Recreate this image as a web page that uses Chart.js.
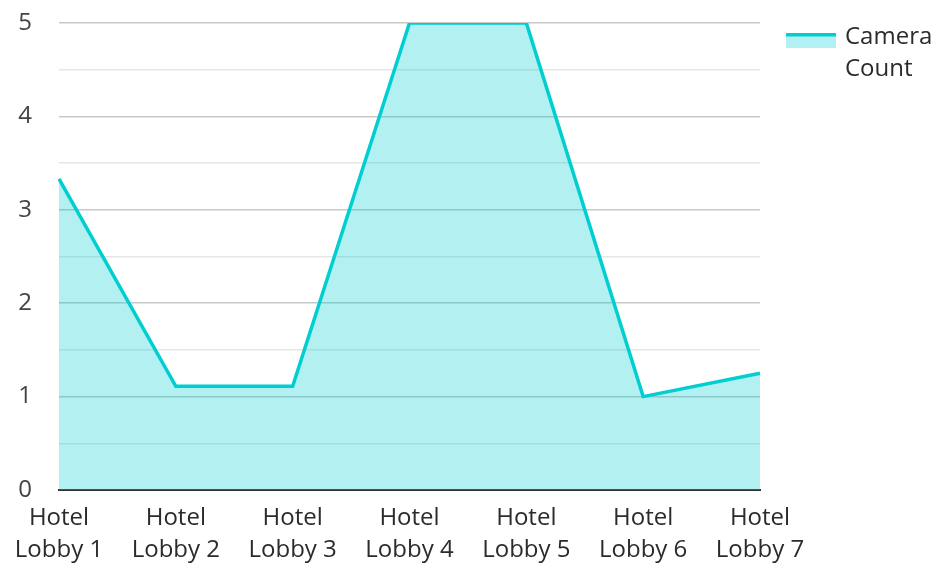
<!DOCTYPE html>
<html>
<head>
<meta charset="utf-8">
<script src="https://cdn.jsdelivr.net/npm/chart.js@4"></script>
<style>
  html, body { margin: 0; padding: 0; background: #fff; }
  #wrap { width: 936px; height: 564px; }
</style>
</head>
<body>
<div id="wrap"><canvas id="chart"></canvas></div>
<script>
/* ========== Data ========== */
const categories = [
  ['Hotel', 'Lobby 1'], ['Hotel', 'Lobby 2'], ['Hotel', 'Lobby 3'], ['Hotel', 'Lobby 4'],
  ['Hotel', 'Lobby 5'], ['Hotel', 'Lobby 6'], ['Hotel', 'Lobby 7']
];
const cameraCount = [3.33, 1.11, 1.11, 5, 5, 1, 1.25];
const seriesName = ['Camera', 'Count'];
const yMin = 0, yMax = 5, yStep = 0.5;

const LINE = '#00ced1';
const FILL = 'rgba(0, 206, 209, 0.3)';
const FONT = "'Open Sans', 'Noto Sans', sans-serif";

/* ========== Legend (line on top of filled box) ========== */
const sideLegend = {
  id: 'sideLegend',
  afterDraw(chart) {
    const c = chart.ctx;
    const x = 786, y = 33;
    c.save();
    c.fillStyle = FILL;
    c.fillRect(x, y, 50, 15);
    c.fillStyle = LINE;
    c.fillRect(x, y, 50, 3.5);
    c.fillStyle = '#2b2b2b';
    c.font = `24px ${FONT}`;
    c.textBaseline = 'alphabetic';
    seriesName.forEach((t, i) => c.fillText(t, 845, 44 + i * 32));
    c.restore();
  }
};

/* ========== Chart ========== */
new Chart(document.getElementById('chart'), {
  type: 'line',
  data: {
    labels: categories,
    datasets: [{
      label: seriesName.join(' '),
      data: cameraCount,
      borderColor: LINE,
      backgroundColor: FILL,
      borderWidth: 3.5,
      fill: 'origin',
      tension: 0,
      pointRadius: 0
    }]
  },
  options: {
    responsive: true,
    maintainAspectRatio: false,
    animation: false,
    layout: { padding: { top: 23, right: 176, left: 0, bottom: 0 } },
    plugins: { legend: { display: false }, tooltip: { enabled: false } },
    scales: {
      x: {
        grid: { display: false },
        border: { display: true, color: '#333', width: 2 },
        ticks: { color: '#2b2b2b', font: { family: FONT, size: 24, lineHeight: 1.33 }, maxRotation: 0, padding: 4 },
        afterFit: s => { s.height = 74; s.paddingLeft = 0; s.paddingRight = 0; }
      },
      y: {
        min: yMin, max: yMax,
        border: { display: false },
        grid: {
          color: ctx => (ctx.tick && Number.isInteger(ctx.tick.value)) ? '#c8c8c8' : '#e6e6e6',
          lineWidth: 1.5,
          drawTicks: false
        },
        ticks: {
          stepSize: yStep,
          color: '#444',
          font: { family: FONT, size: 24 },
          padding: 27,
          callback: v => Number.isInteger(v) ? v : ''
        },
        afterFit: s => { s.width = 59; s.paddingTop = 0; s.paddingBottom = 0; }
      }
    }
  },
  plugins: [sideLegend]
});
</script>
</body>
</html>
